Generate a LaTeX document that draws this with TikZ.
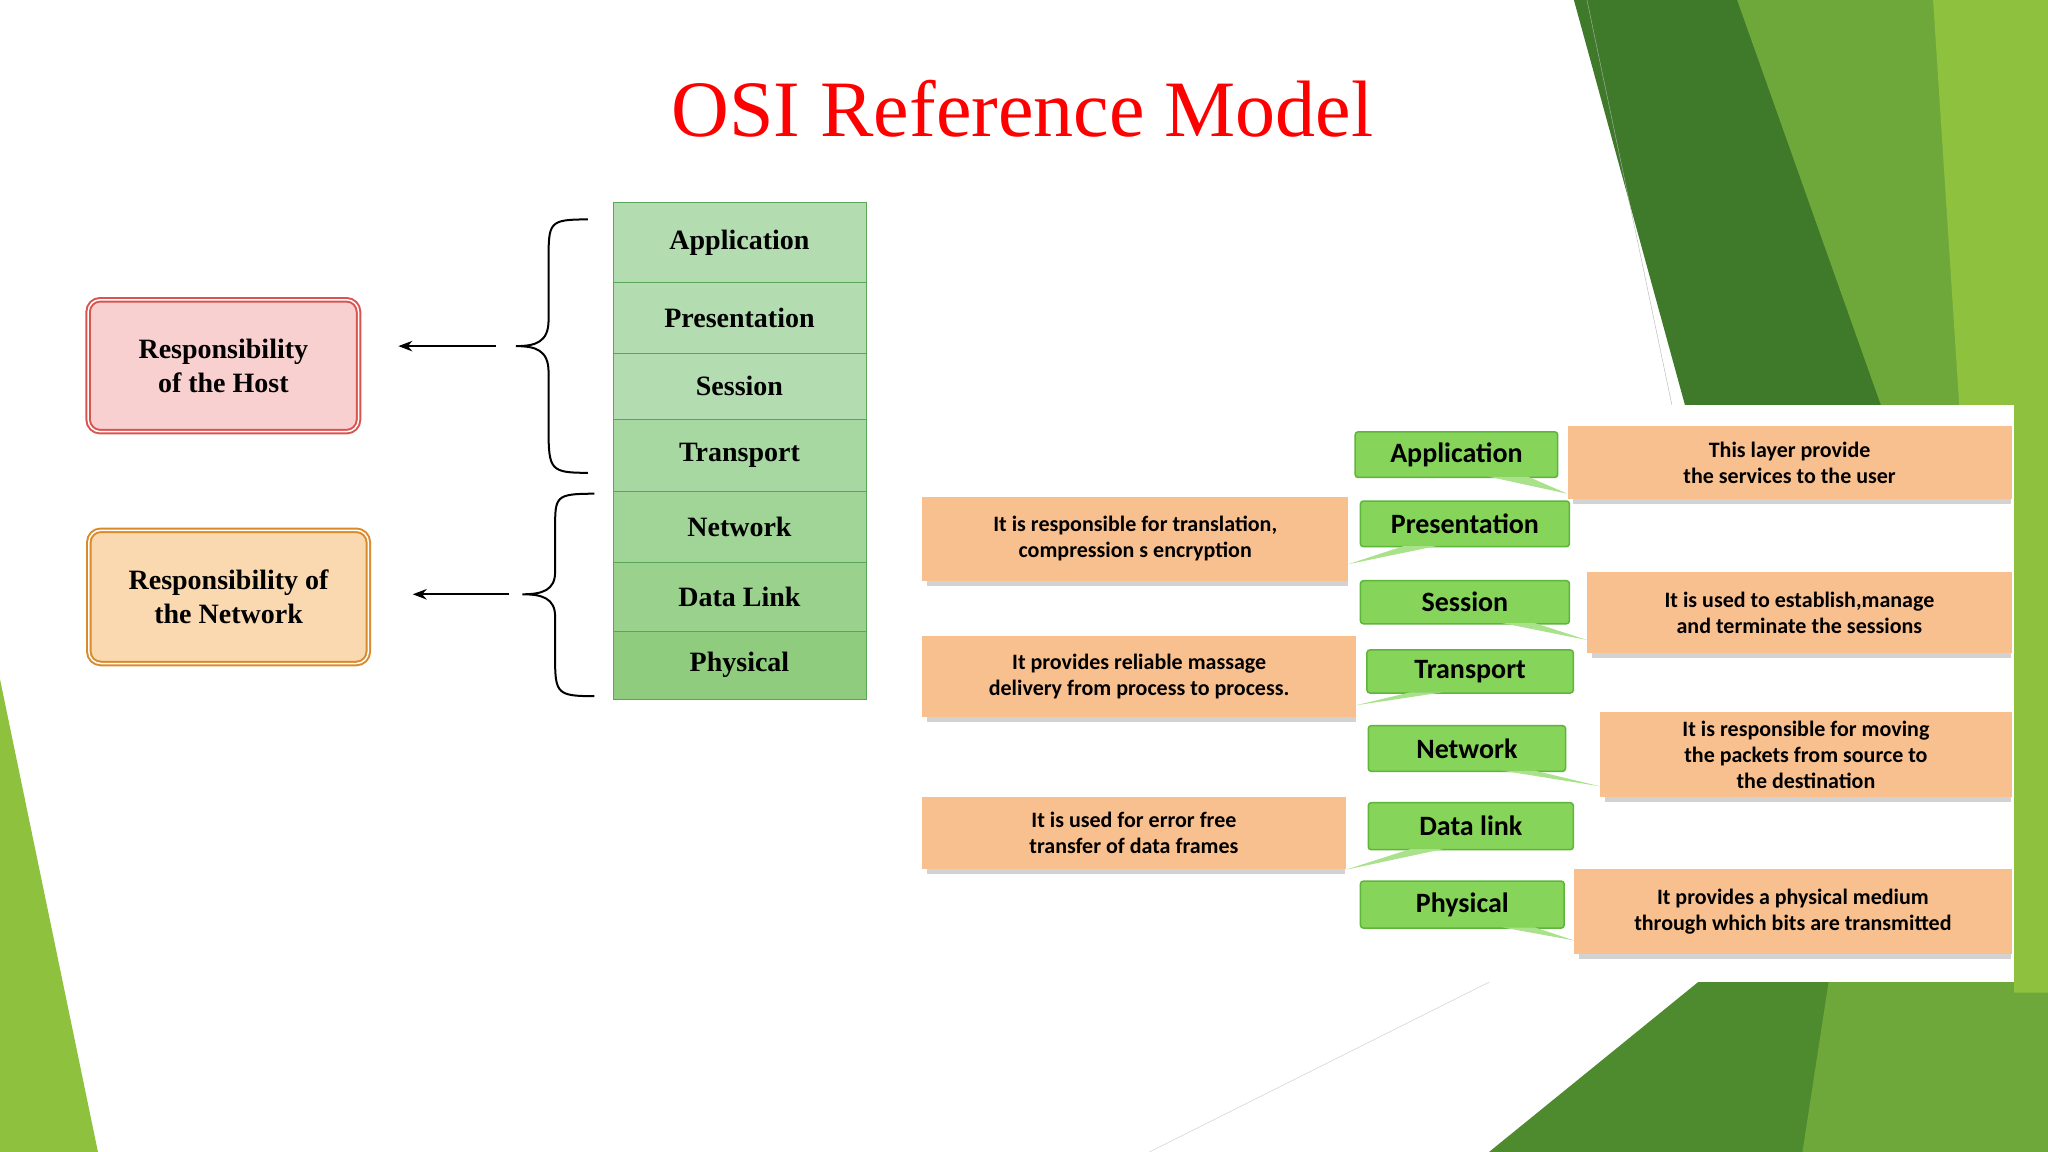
\documentclass[tikz,border=0pt]{standalone}
\usepackage{fontspec}
\usetikzlibrary{arrows.meta}
\setmainfont{Liberation Serif}
\newfontfamily\calib{Carlito}
\definecolor{gA}{HTML}{4E8A2E}
\definecolor{gB}{HTML}{6FA83A}
\definecolor{gC}{HTML}{8DC13E}
\definecolor{gD}{HTML}{3F7A2A}
\definecolor{stk}{HTML}{B3DDB0}
\definecolor{stk2}{HTML}{8FCC7E}
\definecolor{lab}{HTML}{86D45A}
\definecolor{labd}{HTML}{5DB53A}
\definecolor{org}{HTML}{F9C08F}
\definecolor{hostf}{HTML}{F9D0D0}
\definecolor{hostd}{HTML}{D9534F}
\definecolor{netf}{HTML}{FAD8B0}
\definecolor{netd}{HTML}{D98A2B}
\begin{document}
\begin{tikzpicture}[x=1.3061pt,y=-1.3061pt,
  layer/.style={draw=gray!70!green,fill=stk,minimum width=194*1.3061pt,anchor=north west,inner sep=0pt,font=\bfseries\fontsize{28}{30}\selectfont},
  glab/.style={draw=labd,line width=1.5pt,fill=lab,rounded corners=3pt,anchor=north west,inner sep=0pt,font=\calib\bfseries\fontsize{28}{30}\selectfont},
  desc/.style={fill=org,anchor=north west,inner sep=0pt,align=center,font=\calib\bfseries\fontsize{22}{26}\selectfont},
  wedge/.style={fill=lab!70!white,draw=none}]
\useasboundingbox (0,0) rectangle (1568,882);
\fill[white] (0,0) rectangle (1568,882);
% background greens
\fill[gD] (1205,0) -- (1568,0) -- (1568,310) -- (1290,310) -- cycle;
\fill[gB] (1330,0) -- (1568,0) -- (1568,310) -- (1440,310) -- cycle;
\fill[gC] (1480,0) -- (1568,0) -- (1568,310) -- (1500,310) -- cycle;
\fill[gA] (1300,752) -- (1568,752) -- (1568,882) -- (1140,882) -- cycle;
\fill[gB] (1400,752) -- (1568,752) -- (1568,882) -- (1380,882) -- cycle;
\fill[gC] (1542,310) -- (1568,300) -- (1568,760) -- (1542,760) -- cycle;
\fill[gC] (0,520) -- (75,882) -- (0,882) -- cycle;
\draw[gray!60] (1215,0) -- (1280,310);
\draw[gray!40] (1140,752) -- (880,882);
\fill[white] (700,310) rectangle (1542,752);
% title
\node[text=red,font=\fontsize{80}{90}\selectfont] (title) at (783,83) {OSI Reference Model};
% stack
\node[layer,minimum height=61*1.3061pt] (l1) at (469,155) {Application};
\node[layer,minimum height=54*1.3061pt] (l2) at (469,216) {Presentation};
\node[layer,minimum height=51*1.3061pt] (l3) at (469,270) {Session};
\node[layer,minimum height=55*1.3061pt,fill=stk!70!stk2] (l4) at (469,321) {Transport};
\node[layer,minimum height=54*1.3061pt,fill=stk!50!stk2] (l5) at (469,376) {Network};
\node[layer,minimum height=53*1.3061pt,fill=stk!30!stk2] (l6) at (469,430) {Data Link};
\node[layer,minimum height=52*1.3061pt,fill=stk2] (l7) at (469,483) {Physical};
% responsibility boxes
\node[draw=hostd,line width=2pt,fill=hostf,rounded corners=12pt,double=white,double distance=1.5pt,
  minimum width=207*1.3061pt,minimum height=101*1.3061pt,align=center,font=\bfseries\fontsize{28}{34}\selectfont] (host) at (171,280) {Responsibility\\of the Host};
\node[draw=netd,line width=2pt,fill=netf,rounded corners=12pt,double=white,double distance=1.5pt,
  minimum width=214*1.3061pt,minimum height=102*1.3061pt,align=center,font=\bfseries\fontsize{28}{34}\selectfont] (net) at (175,457) {Responsibility of\\the Network};
\coordinate (b1) at (380,265); \coordinate (b2) at (390,455);
\coordinate (a1) at (305,265); \coordinate (a2) at (316,455);
\draw[-{Stealth[length=14pt]},line width=2pt] (b1) -- (a1);
\draw[-{Stealth[length=14pt]},line width=2pt] (b2) -- (a2);
% braces
\draw[line width=2pt] (450,168) .. controls (420,168) and (420,170) .. (420,200) -- (420,245) .. controls (420,262) and (410,265) .. (395,265)
  .. controls (410,265) and (420,268) .. (420,285) -- (420,330) .. controls (420,360) and (422,362) .. (450,362);
\draw[line width=2pt] (455,378) .. controls (425,378) and (425,380) .. (425,405) -- (425,438) .. controls (425,452) and (415,455) .. (400,455)
  .. controls (415,455) and (425,458) .. (425,472) -- (425,505) .. controls (425,531) and (427,533) .. (455,533);
% right panel descriptions
\foreach \n/\x/\y/\w/\h/\t in {
 d1/1200/326/340/56/{This  layer provide\\the services to the user},
 d2/706/380/326/65/{It is responsible for translation,\\compression s encryption},
 d3/1215/438/325/62/{It is used to establish,manage\\and terminate  the sessions},
 d4/706/487/332/62/{It provides reliable massage\\delivery from process to process.},
 d5/1225/545/315/65/{It is responsible for moving\\the packets from source to\\the destination},
 d6/706/610/324/55/{It is used for error free\\transfer of data frames},
 d7/1205/665/335/65/{It provides a physical medium\\through which bits are transmitted}}{
 \fill[gray!35] (\x+4,\y+\h) rectangle (\x+\w,\y+\h+4);
 \node[desc,minimum width=\w*1.3061pt,minimum height=\h*1.3061pt] (\n) at (\x,\y) {\t};
}
% green labels
\foreach \n/\x/\y/\w/\h/\t in {
 g1/1037/330/155/35/Application, g2/1041/383/160/35/Presentation, g3/1041/444/160/33/Session,
 g4/1046/497/158/33/Transport, g5/1047/555/151/35/Network, g6/1047/614/157/36/Data link,
 g7/1041/674/156/36/Physical}{
 \node[glab,minimum width=\w*1.3061pt,minimum height=\h*1.3061pt] (\n) at (\x,\y) {\t};
}
% pointer wedges
\fill[wedge] (1140,365) -- (1170,365) -- (1200,378) -- cycle;
\fill[wedge] (1075,418) -- (1100,418) -- (1032,432) -- cycle;
\fill[wedge] (1150,477) -- (1175,477) -- (1215,490) -- cycle;
\fill[wedge] (1080,530) -- (1105,530) -- (1038,540) -- cycle;
\fill[wedge] (1150,590) -- (1175,590) -- (1225,602) -- cycle;
\fill[wedge] (1080,650) -- (1105,650) -- (1030,666) -- cycle;
\fill[wedge] (1150,710) -- (1175,710) -- (1205,720) -- cycle;
\end{tikzpicture}
\end{document}
